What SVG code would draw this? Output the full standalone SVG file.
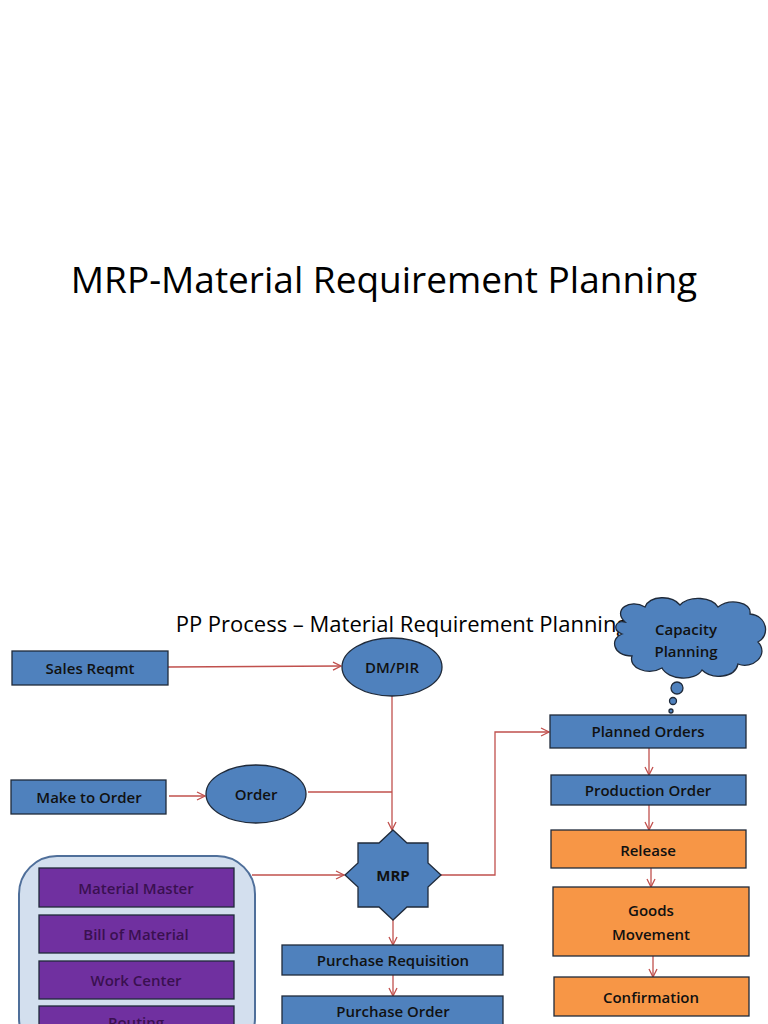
<svg xmlns="http://www.w3.org/2000/svg" width="768" height="1024" viewBox="0 0 768 1024">
<style>
text{font-family:"Open Sans","Liberation Sans",sans-serif;text-anchor:middle;dominant-baseline:central}
.b{fill:#4f81bd;stroke:#1f2a3a;stroke-width:1.3}
.o{fill:#f79646;stroke:#1f2a3a;stroke-width:1.3}
.p{fill:#7030a0;stroke:#1f2a3a;stroke-width:1.3}
.t{font-size:15px;fill:#111;font-weight:600}
.pt{font-size:15px;fill:#3a1050;font-weight:600}
.c{fill:none;stroke:#c0504d;stroke-width:1.3}
</style>
<defs><marker id="a" markerWidth="10" markerHeight="10" refX="9" refY="5" orient="auto" markerUnits="userSpaceOnUse"><path d="M1,1 L9,5 L1,9" fill="none" stroke="#c0504d" stroke-width="1.3"/></marker></defs>
<rect width="768" height="1024" fill="#fff"/>
<text x="384" y="278" style="font-size:37px;fill:#000">MRP-Material Requirement Planning</text>
<text x="402" y="623" style="font-size:22px;fill:#000">PP Process – Material Requirement Planning</text>
<g id="connectors" class="c">
<path d="M168,667 L341,666" marker-end="url(#a)"/>
<path d="M392,696 L392,830" marker-end="url(#a)"/>
<path d="M308,792 L392,792"/>
<path d="M169,796 L205,796" marker-end="url(#a)"/>
<path d="M252,875 L344,875" marker-end="url(#a)"/>
<path d="M441,875 L495,875 L495,732 L549,732" marker-end="url(#a)"/>
<path d="M393,920 L393,945" marker-end="url(#a)"/>
<path d="M393,975 L393,996" marker-end="url(#a)"/>
<path d="M649,748 L649,775" marker-end="url(#a)"/>
<path d="M649,805 L649,830" marker-end="url(#a)"/>
<path d="M651,868 L651,887" marker-end="url(#a)"/>
<path d="M653,956 L653,977" marker-end="url(#a)"/>
</g>
<g id="sales"><rect class="b" x="12" y="651" width="156" height="34"/><text class="t" x="90" y="668">Sales Reqmt</text></g>
<g id="dmpir"><ellipse class="b" cx="392" cy="667" rx="50" ry="29"/><text class="t" x="392" y="667">DM/PIR</text></g>
<g id="mto"><rect class="b" x="11" y="780" width="155" height="34"/><text class="t" x="89" y="797">Make to Order</text></g>
<g id="order"><ellipse class="b" cx="256" cy="794" rx="50" ry="29"/><text class="t" x="256" y="794">Order</text></g>
<g id="mrp"><polygon class="b" points="393,830 407,843 428,843 428,863 441,875 428,887 428,907 407,907 393,920 379,907 358,907 358,887 345,875 358,863 358,843 379,843"/><text class="t" x="393" y="875" style="font-weight:bold">MRP</text></g>
<g id="pr"><rect class="b" x="282" y="945" width="221" height="30"/><text class="t" x="393" y="960">Purchase Requisition</text></g>
<g id="po"><rect class="b" x="282" y="996" width="221" height="32"/><text class="t" x="393" y="1011">Purchase Order</text></g>
<g id="master">
<rect x="19" y="856" width="236" height="200" rx="38" fill="#d3dfee" stroke="#4f6f9a" stroke-width="2"/>
<rect class="p" x="39" y="868" width="195" height="39"/><text class="pt" x="136" y="888">Material Master</text>
<rect class="p" x="39" y="915" width="195" height="38"/><text class="pt" x="136" y="934">Bill of Material</text>
<rect class="p" x="39" y="961" width="195" height="38"/><text class="pt" x="136" y="980">Work Center</text>
<rect class="p" x="39" y="1006" width="195" height="40"/><text class="pt" x="136" y="1022">Routing</text>
</g>
<g id="cloud">
<path class="b" d="M625,622 C612,610 630,598 645,607 C650,595 672,595 680,605 C690,595 712,597 718,607 C730,598 752,602 750,614 C768,616 770,636 758,642 C770,655 752,670 738,664 C735,678 712,680 702,670 C695,682 668,680 662,668 C648,676 628,668 632,656 C612,656 610,638 622,634 C612,630 615,620 625,622 Z"/>
<text class="t" x="686" y="629">Capacity</text><text class="t" x="686" y="651">Planning</text>
<circle class="b" cx="677" cy="688" r="6"/><circle class="b" cx="673" cy="701" r="3.5"/><circle class="b" cx="671" cy="711" r="2"/>
</g>
<g id="planned"><rect class="b" x="550" y="715" width="196" height="33"/><text class="t" x="648" y="731">Planned Orders</text></g>
<g id="prod"><rect class="b" x="551" y="775" width="195" height="30"/><text class="t" x="648" y="790">Production Order</text></g>
<g id="release"><rect class="o" x="551" y="830" width="195" height="38"/><text class="t" x="648" y="850">Release</text></g>
<g id="goods"><rect class="o" x="553" y="887" width="196" height="69"/><text class="t" x="651" y="910">Goods</text><text class="t" x="651" y="934">Movement</text></g>
<g id="confirm"><rect class="o" x="554" y="977" width="195" height="39"/><text class="t" x="651" y="997">Confirmation</text></g>
</svg>
